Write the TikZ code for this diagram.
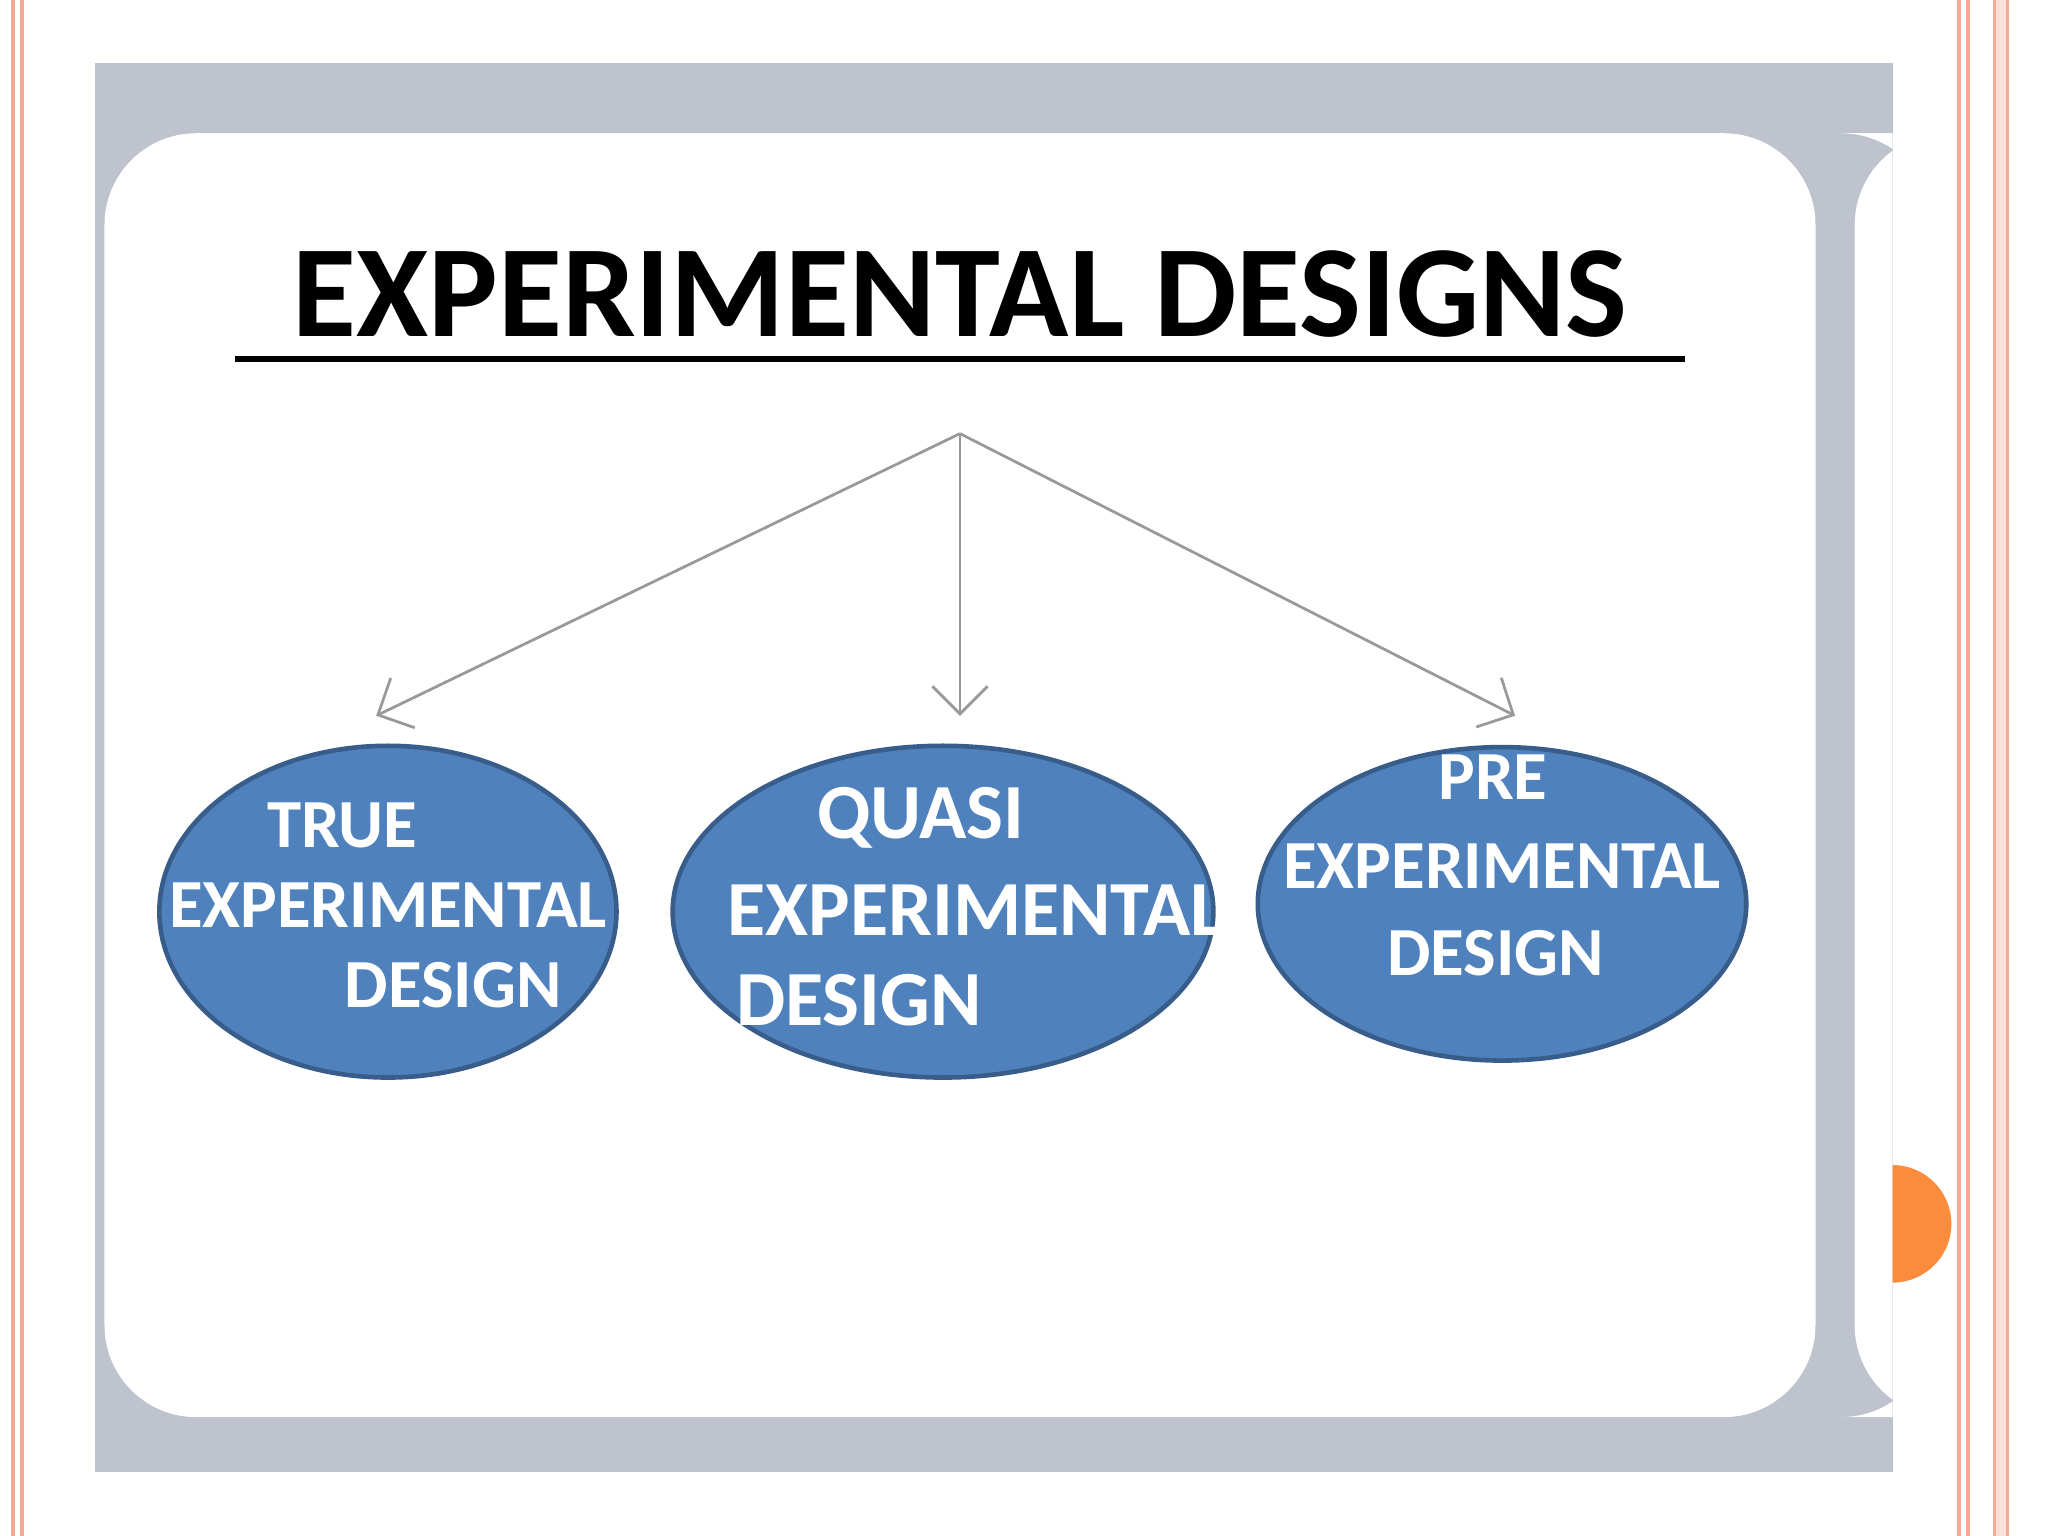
\documentclass[tikz,border=0pt]{standalone}
\usepackage{fontspec}
\setmainfont{Carlito}
\usetikzlibrary{arrows.meta}
\definecolor{frame}{RGB}{190,195,205}
\definecolor{salmon}{RGB}{245,170,150}
\definecolor{ellfill}{RGB}{79,129,189}
\definecolor{elldraw}{RGB}{56,93,138}
\definecolor{orng}{RGB}{250,140,60}
\tikzset{
  ell/.style={fill=ellfill, draw=elldraw, line width=1pt},
  lbl/.style={text=white, font=\bfseries\fontsize{15}{15}\selectfont, inner sep=0},
  conn/.style={draw=gray!80, line width=0.6pt, -{Straight Barb[length=6pt,width=12pt]}},
  sal/.style={draw=salmon, line width=0.8pt}
}
\begin{document}
\begin{tikzpicture}[x=0.01cm,y=-0.01cm]
\useasboundingbox (0,0) rectangle (1568,1176);
\fill[white] (0,0) rectangle (1568,1176);
% borders
\draw[sal] (10,0) -- (10,1176); \draw[sal] (17,0) -- (17,1176);
\draw[sal] (1500,0) -- (1500,1176); \draw[sal] (1507,0) -- (1507,1176);
\fill[salmon!35] (1527,0) rectangle (1537,1176);
\draw[sal] (1527,0) -- (1527,1176); \draw[sal] (1537,0) -- (1537,1176);
% grey frame
\fill[frame] (73,48) rectangle (1449,1127);
\fill[white, rounded corners=20] (80,102) rectangle (1390,1085);
\begin{scope}
\clip (1400,90) rectangle (1449,1100);
\fill[white, rounded corners=20] (1420,102) rectangle (1480,1085);
\end{scope}
\fill[orng] (1449,982) arc[start angle=90,end angle=-90,radius=45] -- cycle;
% title
\node[inner sep=0, font=\bfseries\fontsize{28.5}{28.5}\selectfont] (title) at (735,225) {EXPERIMENTAL DESIGNS};
\draw[line width=1.4pt] (180,275) -- (1290,275);
% arrows
\coordinate (apex) at (735,332);
\coordinate (t1) at (288,548);
\coordinate (t2) at (735,548);
\coordinate (t3) at (1160,548);
\draw[conn] (apex) -- (t1);
\draw[conn] (apex) -- (t2);
\draw[conn] (apex) -- (t3);
% ellipses
\draw[ell] (297,698) ellipse [x radius=175,y radius=127];
\draw[ell] (722,698) ellipse [x radius=207,y radius=127];
\draw[ell] (1150,692) ellipse [x radius=187,y radius=120];
\node[lbl] (a1) at (262,632) {TRUE};
\node[lbl] (a2) at (297,693) {EXPERIMENTAL};
\node[lbl] (a3) at (347,754) {DESIGN};
\node[lbl, font=\bfseries\fontsize{17}{17}\selectfont] (b1) at (705,626) {QUASI};
\node[lbl, font=\bfseries\fontsize{17}{17}\selectfont] (b2) at (747,697) {EXPERIMENTAL};
\node[lbl, font=\bfseries\fontsize{17}{17}\selectfont, anchor=west] (b3) at (563,766) {DESIGN};
\node[lbl] (c1) at (1143,595) {PRE};
\node[lbl] (c2) at (1150,663) {EXPERIMENTAL};
\node[lbl] (c3) at (1145,730) {DESIGN};
\end{tikzpicture}
\end{document}
